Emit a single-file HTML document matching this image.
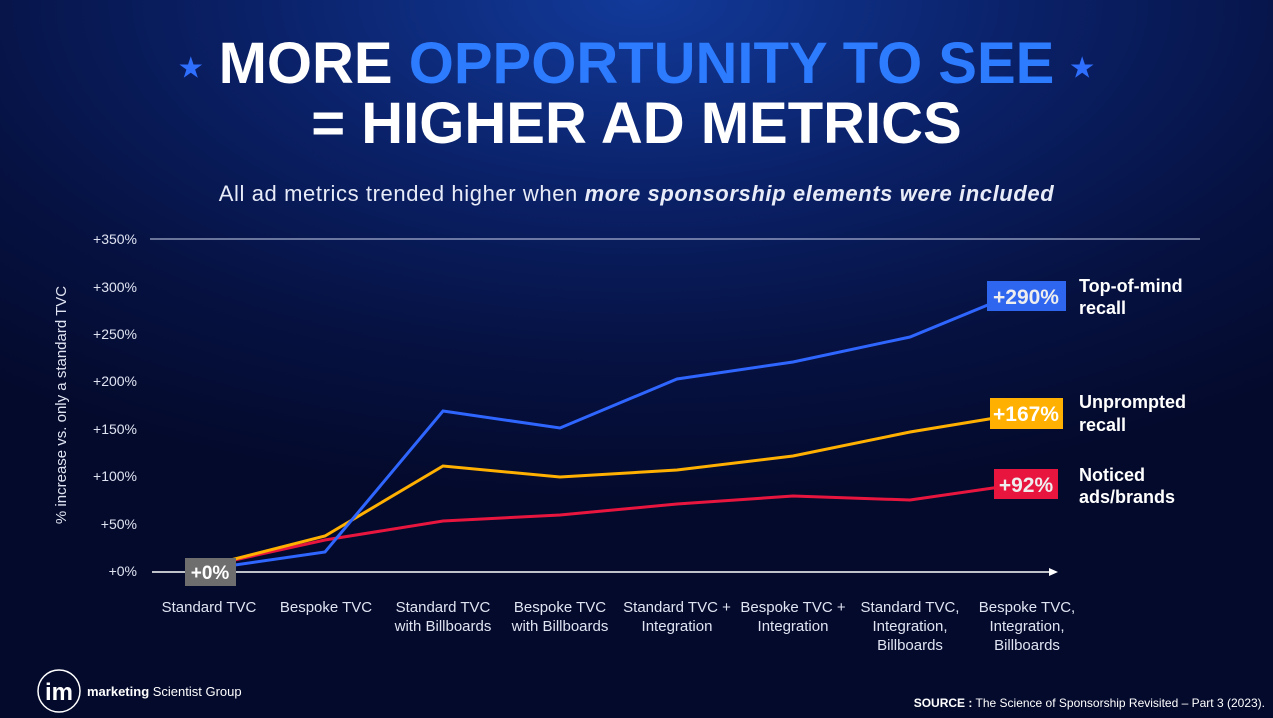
<!DOCTYPE html>
<html><head><style>
body{margin:0;width:1273px;height:718px;overflow:hidden;font-family:"Liberation Sans",sans-serif;
background:radial-gradient(ellipse 1000px 500px at 640px 0px,#123a9a 0%,#0a2066 40%,#061243 70%,#040a2c 100%);color:#fff;position:relative}
.t{position:absolute;left:0;width:1273px;text-align:center;font-weight:900;font-size:58px;letter-spacing:0px;line-height:60px}
.s{position:absolute;white-space:nowrap}
</style></head><body>
<div class="t" style="top:34px"><span style="color:#2f6fff;font-size:26px;vertical-align:middle">★</span> MORE <span style="color:#2d7bff">OPPORTUNITY TO SEE</span> <span style="color:#2f6fff;font-size:26px;vertical-align:middle">★</span></div>
<div class="t" style="top:94px">= HIGHER AD METRICS</div>
<div class="s" style="top:181px;left:0;width:1273px;text-align:center;font-size:22px;letter-spacing:0.6px;color:#e8ecf8">All ad metrics trended higher when <b><i>more sponsorship elements were included</i></b></div>
<svg width="1273" height="718" style="position:absolute;left:0;top:0" font-family="Liberation Sans" >
<line x1="150" y1="239" x2="1200" y2="239" stroke="#cfd6ee" stroke-width="1"/>
<line x1="152" y1="572" x2="1050" y2="572" stroke="#fff" stroke-width="1.5"/>
<polygon points="1058,572 1049,568 1049,576" fill="#fff"/>
<g fill="#e0e4f2" font-size="14" text-anchor="end">
<text x="137" y="244">+350%</text><text x="137" y="292">+300%</text><text x="137" y="339">+250%</text><text x="137" y="386">+200%</text><text x="137" y="434">+150%</text><text x="137" y="481">+100%</text><text x="137" y="529">+50%</text><text x="137" y="576">+0%</text>
</g>
<text transform="translate(66,405) rotate(-90)" fill="#e0e4f2" font-size="15" text-anchor="middle">% increase vs. only a standard TVC</text>
<g fill="#e0e4f2" font-size="15" text-anchor="middle">
<text x="209" y="612">Standard TVC</text>
<text x="326" y="612">Bespoke TVC</text>
<text x="443" y="612">Standard TVC</text><text x="443" y="631">with Billboards</text>
<text x="560" y="612">Bespoke TVC</text><text x="560" y="631">with Billboards</text>
<text x="677" y="612">Standard TVC +</text><text x="677" y="631">Integration</text>
<text x="793" y="612">Bespoke TVC +</text><text x="793" y="631">Integration</text>
<text x="910" y="612">Standard TVC,</text><text x="910" y="631">Integration,</text><text x="910" y="650">Billboards</text>
<text x="1027" y="612">Bespoke TVC,</text><text x="1027" y="631">Integration,</text><text x="1027" y="650">Billboards</text>
</g>
<polyline fill="none" stroke="#e8163f" stroke-width="3" points="207,566 325,540 443,521 560,515 677,504 793,496 910,500 1000,487"/>
<polyline fill="none" stroke="#ffb000" stroke-width="3" points="207,566 325,536 443,466 560,477 677,470 793,456 910,432 995,418"/>
<polyline fill="none" stroke="#2f66ff" stroke-width="3" points="207,569 325,552 443,411 560,428 677,379 793,362 910,337 995,302"/>
<rect x="185" y="558" width="51" height="28" fill="#6e6e6e"/>
<text x="210" y="579" fill="#fff" font-size="19" font-weight="bold" text-anchor="middle">+0%</text>
<rect x="987" y="281" width="79" height="30" fill="#2f66f0"/>
<text x="1026" y="304" fill="#eee" font-size="21" font-weight="bold" text-anchor="middle">+290%</text>
<rect x="990" y="398" width="73" height="31" fill="#ffb000"/>
<text x="1026" y="421" fill="#fff" font-size="21" font-weight="bold" text-anchor="middle">+167%</text>
<rect x="994" y="469" width="64" height="30" fill="#e8163f"/>
<text x="1026" y="492" fill="#eee" font-size="21" font-weight="bold" text-anchor="middle">+92%</text>
<g fill="#fff" font-size="18" font-weight="bold">
<text x="1079" y="292">Top-of-mind</text><text x="1079" y="314">recall</text>
<text x="1079" y="408">Unprompted</text><text x="1079" y="431">recall</text>
<text x="1079" y="481">Noticed</text><text x="1079" y="503">ads/brands</text>
</g>
<circle cx="59" cy="691" r="21" fill="none" stroke="#fff" stroke-width="1.5"/>
<text x="59" y="700" fill="#fff" font-size="24" font-weight="bold" text-anchor="middle">im</text>
<text x="87" y="696" fill="#fff" font-size="13"><tspan font-weight="bold">marketing</tspan> Scientist Group</text>
<text x="1265" y="707" fill="#fff" font-size="12" text-anchor="end"><tspan font-weight="bold">SOURCE :</tspan> The Science of Sponsorship Revisited – Part 3 (2023).</text>
</svg>
</body></html>
